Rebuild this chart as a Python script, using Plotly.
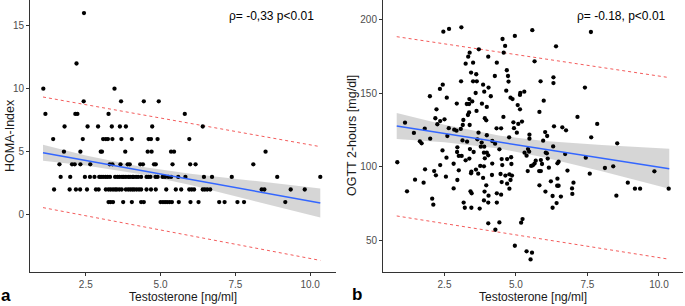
import plotly.graph_objects as go

# ---------------- Panel a: HOMA-Index vs Testosterone ----------------
homa_x = [2.44, 2.19,
          1.08, 3.46,
          2.43, 3.68, 4.44, 4.94,
          1.15, 2.15, 2.22, 3.26, 5.81,
          1.79, 2.56, 2.91, 3.37, 3.64, 3.84, 4.72, 6.41,
          1.41, 2.40, 3.08, 3.17, 3.24, 3.39, 3.69, 4.04, 4.60, 4.68, 4.90, 5.96,
          1.77, 2.32, 3.00, 3.04, 3.82, 4.57, 4.70, 5.35, 5.45, 8.51,
          1.62, 2.04, 2.13, 2.32, 2.65, 3.30, 3.39, 3.66, 3.90, 3.97, 4.32, 4.41, 4.78, 4.84, 5.40, 5.99, 6.17, 8.10,
          1.66, 1.98, 2.47, 2.64, 2.79, 2.95, 3.01, 3.08, 3.16, 3.23, 3.31, 3.48, 3.56, 3.63, 3.71, 3.77, 3.84, 3.92,
          3.98, 4.06, 4.10, 4.18, 4.25, 4.35, 4.53, 4.59, 4.66, 4.83, 4.90, 5.07, 5.15, 5.26, 5.35, 5.59, 5.83, 6.45,
          6.72, 7.38, 8.90, 10.34,
          1.44, 1.96, 2.17, 2.31, 2.54, 2.84, 2.93, 3.17, 3.26, 3.33, 3.41, 3.48, 3.54, 3.62, 3.70, 3.84, 3.92, 3.99,
          4.06, 4.12, 4.20, 4.28, 4.35, 4.53, 4.68, 4.84, 5.19, 5.51, 5.69, 5.96, 6.04, 6.12, 6.41, 6.48, 6.56, 6.66,
          8.38, 8.47, 9.35, 9.82,
          3.26, 3.33, 3.41, 3.75, 4.04, 4.35, 4.44, 5.00, 5.08, 5.15, 5.22, 5.30, 5.38, 5.61, 6.00, 6.27, 6.96, 7.14,
          7.57, 7.79, 9.17]
homa_y = [16, 12,
          10, 10,
          9, 9, 9, 9,
          8, 8, 8, 8, 8,
          7, 7, 7, 7, 7, 7, 7, 7,
          6, 6, 6, 6, 6, 6, 6, 6, 6, 6, 6, 6,
          5, 5, 5, 5, 5, 5, 5, 5, 5, 5,
          4, 4, 4, 4, 4, 4, 4, 4, 4, 4, 4, 4, 4, 4, 4, 4, 4, 4,
          3, 3, 3, 3, 3, 3, 3, 3, 3, 3, 3, 3, 3, 3, 3, 3, 3, 3,
          3, 3, 3, 3, 3, 3, 3, 3, 3, 3, 3, 3, 3, 3, 3, 3, 3, 3,
          3, 3, 3, 3,
          2, 2, 2, 2, 2, 2, 2, 2, 2, 2, 2, 2, 2, 2, 2, 2, 2, 2,
          2, 2, 2, 2, 2, 2, 2, 2, 2, 2, 2, 2, 2, 2, 2, 2, 2, 2,
          2, 2, 2, 2,
          1, 1, 1, 1, 1, 1, 1, 1, 1, 1, 1, 1, 1, 1, 1, 1, 1, 1,
          1, 1, 1]

# fitted line, confidence band and prediction limits
a_fit_x = [1.07, 10.34]
a_fit_y = [4.92, 0.93]
a_band_x = [1.07, 2.5, 4.3, 6.0, 8.0, 10.34]
a_band_lo = [4.29, 3.90, 3.23, 2.35, 1.16, -0.22]
a_band_hi = [5.55, 4.70, 3.83, 3.25, 2.72, 2.08]
a_pi_x = [1.07, 10.34]
a_pi_lo = [0.56, -3.63]
a_pi_hi = [9.34, 5.40]

# ---------------- Panel b: OGTT 2-hours vs Testosterone ----------------
ogtt_x = [2.46, 2.66, 2.44, 2.34, 1.99, 2.58, 2.93, 2.22, 2.18, 2.35, 2.50, 2.25, 1.12, 1.81, 2.65, 2.84, 2.92,
          1.43, 2.60, 2.00, 1.64, 1.70, 2.95, 2.43, 2.94, 2.57, 0.85, 2.82, 2.35, 1.82, 2.14, 2.20, 2.55, 1.47,
          1.77, 2.95, 1.19, 2.82, 2.07, 2.11,
          3.09, 4.53, 4.62, 3.70, 3.38, 4.57, 3.33, 4.03, 3.24, 3.50, 4.33, 4.68, 3.43, 3.61, 4.26, 3.08, 3.50,
          3.63, 3.85, 4.04, 3.89, 4.66, 3.59, 4.12, 3.37, 3.28, 3.36, 3.81, 3.47, 3.98, 3.62, 4.56, 3.36,
          3.32, 3.91, 3.16, 3.96, 3.14, 3.38, 4.32, 4.48, 3.07, 3.69, 3.98, 3.65, 3.29, 3.13, 3.80, 4.17, 4.27,
          4.42, 3.77, 3.89, 3.39, 3.52, 3.88, 3.98, 4.03, 3.00, 3.10, 3.91, 3.37, 3.24, 4.50, 4.69, 4.17,
          4.52, 3.75, 3.88, 3.60, 3.44, 3.00, 3.43, 3.68, 4.16, 4.46, 4.63, 3.85, 4.50, 4.69, 3.96, 3.41,
          3.45, 3.90, 4.33, 4.48, 4.04, 3.88, 3.17, 3.21, 3.44, 3.73, 4.03, 4.33, 4.03, 4.42, 4.28,
          5.57, 4.96, 6.40, 5.65, 4.72, 5.86, 6.31, 6.31, 4.74, 5.29, 5.15, 5.14, 4.88, 4.81, 5.97, 5.06, 5.14,
          5.82, 4.91, 5.21, 5.08, 4.93, 6.33, 6.62, 6.75, 5.03, 6.02, 6.09, 5.47, 5.47, 4.76, 5.95, 6.30, 5.42,
          5.46, 5.30, 6.04, 6.08, 4.83, 5.37, 5.69, 5.87, 6.11, 6.49, 4.84, 5.91, 5.65, 5.59, 5.53, 6.45, 6.15,
          4.77, 4.86, 5.41, 5.81, 5.87, 6.80, 6.45, 6.22, 4.81, 4.77, 6.44, 6.49, 5.82, 6.03, 6.28, 6.57, 6.42,
          6.28, 5.23, 5.18, 4.96, 5.37, 5.56, 5.51,
          7.62, 7.41, 7.15, 7.84, 7.63, 8.54, 6.72, 7.44, 8.11, 8.40, 7.58, 7.01, 6.96, 6.97, 8.51,
          9.84, 8.91, 9.16, 9.34, 10.34]
ogtt_y = [192.0, 193.9, 155.9, 153.0, 148.0, 147.0, 143.0, 139.1, 133.0, 131.1, 132.3, 128.9, 130.0, 125.9,
          126.2, 125.2, 124.5, 123.0, 120.9, 119.1, 117.3, 115.9, 113.2, 111.1, 110.0, 106.1, 103.0, 102.0,
          101.1, 98.2, 97.0, 94.1, 93.2, 91.1, 89.1, 90.9, 83.2, 85.2, 78.2, 74.1,
          195.0, 187.0, 182.3, 180.0, 177.7, 177.7, 175.0, 175.0, 170.2, 170.9, 170.9, 165.7, 164.1, 163.0,
          161.8, 158.2, 158.2, 158.2, 155.9, 153.9, 151.1, 151.8, 150.2, 148.0, 146.1, 142.7, 142.7, 142.9,
          144.5, 140.7, 138.0, 133.9, 137.0, 135.2, 133.0, 131.8, 131.6, 128.4, 128.4, 126.1, 126.1, 125.7,
          123.2, 121.4, 118.6, 117.0, 117.9, 116.4, 117.5, 115.7, 111.8, 113.6, 113.6, 112.0, 110.0, 109.5,
          109.5, 107.7, 107.3, 107.3, 105.7, 105.5, 104.3, 105.2, 105.2, 102.1, 101.1, 100.5, 100.2, 98.0,
          96.6, 97.5, 95.5, 95.2, 94.3, 95.0, 93.9, 92.3, 89.5, 88.4, 87.3, 83.2, 81.8, 83.0, 81.8, 80.9, 80.2,
          77.0, 75.5, 72.0, 72.0, 71.4, 75.5, 75.5, 61.4, 62.0, 57.0,
          193.0, 189.1, 182.0, 171.8, 161.8, 158.2, 160.9, 157.0, 158.0, 151.1, 150.2, 148.9, 146.1, 147.0,
          145.0, 142.0, 139.1, 137.3, 130.2, 130.7, 129.1, 126.2, 127.5, 126.8, 124.8, 123.2, 123.6, 120.9,
          121.8, 119.1, 120.0, 117.7, 113.8, 112.0, 110.2, 109.5, 109.5, 109.1, 106.4, 107.5, 104.1, 104.5,
          105.5, 103.4, 101.8, 101.8, 102.1, 100.9, 100.5, 102.3, 99.3, 94.8, 93.9, 97.0, 97.0, 97.0, 97.3,
          91.8, 90.0, 90.9, 85.0, 87.0, 87.0, 87.3, 83.0, 80.0, 79.6, 75.2, 72.0, 64.3, 61.8, 46.1, 42.3,
          41.4, 36.8,
          191.8, 153.9, 133.9, 129.1, 120.0, 115.9, 108.6, 106.1, 99.1, 100.2, 95.2, 89.1, 85.2, 81.4, 80.2,
          96.8, 89.1, 85.0, 85.0, 85.0]

b_fit_x = [0.83, 10.36]
b_fit_y = [127.7, 98.6]
b_band_x = [0.83, 2.5, 4.4, 6.0, 8.0, 10.36]
b_band_lo = [118.8, 116.6, 112.4, 106.3, 96.8, 85.0]
b_band_hi = [136.6, 128.6, 121.2, 117.5, 114.8, 112.2]
b_pi_x = [0.83, 10.36]
b_pi_lo = [66.4, 36.9]
b_pi_hi = [188.6, 160.7]

x_ticks = [2.5, 5.0, 7.5, 10.0]
a_y_ticks = [0, 5, 10, 15]
b_y_ticks = [50, 100, 150, 200]

W, H = 685, 306
PLOT_H = 272

BAND_FILL = "rgba(153,153,153,0.4)"
BLUE = "#3366FF"
RED = "rgba(240,50,50,0.8)"

fig = go.Figure()


def add_panel(xa, ya, px, py, fx, fy, bx, blo, bhi, pix, pilo, pihi):
    fig.add_trace(go.Scatter(x=bx, y=bhi, mode="lines", line=dict(width=0), hoverinfo="skip",
                             xaxis=xa, yaxis=ya, showlegend=False))
    fig.add_trace(go.Scatter(x=bx, y=blo, mode="lines", line=dict(width=0), fill="tonexty",
                             fillcolor=BAND_FILL, hoverinfo="skip", xaxis=xa, yaxis=ya, showlegend=False))
    fig.add_trace(go.Scatter(x=pix, y=pihi, mode="lines", line=dict(color=RED, width=1, dash="3px,3px"),
                             xaxis=xa, yaxis=ya, showlegend=False))
    fig.add_trace(go.Scatter(x=pix, y=pilo, mode="lines", line=dict(color=RED, width=1, dash="3px,3px"),
                             xaxis=xa, yaxis=ya, showlegend=False))
    fig.add_trace(go.Scatter(x=px, y=py, mode="markers", marker=dict(color="black", size=4.3),
                             xaxis=xa, yaxis=ya, showlegend=False))
    fig.add_trace(go.Scatter(x=fx, y=fy, mode="lines", line=dict(color=BLUE, width=1.6),
                             xaxis=xa, yaxis=ya, showlegend=False))


add_panel("x", "y", homa_x, homa_y, a_fit_x, a_fit_y, a_band_x, a_band_lo, a_band_hi, a_pi_x, a_pi_lo, a_pi_hi)
add_panel("x2", "y2", ogtt_x, ogtt_y, b_fit_x, b_fit_y, b_band_x, b_band_lo, b_band_hi, b_pi_x, b_pi_lo, b_pi_hi)

FONT = "Liberation Sans, Arial, sans-serif"
axis_common = dict(showline=True, linecolor="#333333", linewidth=1, ticks="outside", ticklen=3,
                   tickcolor="#333333", tickwidth=1, showgrid=False, zeroline=False,
                   tickfont=dict(family=FONT, size=10, color="#4D4D4D"))

fig.update_layout(
    width=W, height=H,
    margin=dict(l=0, r=0, t=0, b=H - PLOT_H),
    paper_bgcolor="white", plot_bgcolor="white",
    font=dict(family=FONT),
    hovermode=False,
    xaxis=dict(domain=[30 / W, 336 / W], range=[0.635, 10.865], tickvals=x_ticks,
               ticktext=[f"{v:.1f}" for v in x_ticks], anchor="y", **axis_common),
    yaxis=dict(domain=[0, 1], range=[-4.55, 17.04], tickvals=a_y_ticks, anchor="x", **axis_common),
    xaxis2=dict(domain=[383 / W, 683 / W], range=[0.35, 10.84], tickvals=x_ticks,
                ticktext=[f"{v:.1f}" for v in x_ticks], anchor="y2", **axis_common),
    yaxis2=dict(domain=[0, 1], range=[28.2, 213.6], tickvals=b_y_ticks, anchor="x2", **axis_common),
)


def pap_x(px):
    return px / W


def pap_y(py):
    return (PLOT_H - py) / PLOT_H


ann = []
ann.append(dict(text="Testosterone [ng/ml]", x=pap_x(183), y=pap_y(297), font=dict(size=12, color="#1a1a1a")))
ann.append(dict(text="Testosterone [ng/ml]", x=pap_x(533), y=pap_y(297), font=dict(size=12, color="#1a1a1a")))
ann.append(dict(text="HOMA-Index", x=pap_x(10), y=pap_y(136), textangle=-90, font=dict(size=12.5, color="#1a1a1a")))
ann.append(dict(text="OGTT 2-hours [mg/dl]", x=pap_x(352), y=pap_y(136), textangle=-90,
                font=dict(size=12.5, color="#1a1a1a")))
ann.append(dict(text="ρ= -0,33 p<0.01", x=pap_x(271), y=pap_y(16), font=dict(size=12, color="black")))
ann.append(dict(text="ρ= -0.18, p<0.01", x=pap_x(621), y=pap_y(16), font=dict(size=12, color="black")))
ann.append(dict(text="<b>a</b>", x=pap_x(6), y=pap_y(295), font=dict(size=17, color="black")))
ann.append(dict(text="<b>b</b>", x=pap_x(357), y=pap_y(294), font=dict(size=17, color="black")))

for a in ann:
    a.update(xref="paper", yref="paper", showarrow=False, xanchor="center", yanchor="middle")
    a["font"]["family"] = FONT
fig.update_layout(annotations=ann)

fig.write_html("out.html", config={"displayModeBar": False},
               post_script="document.body.style.margin='0';document.body.style.overflow='hidden';")
